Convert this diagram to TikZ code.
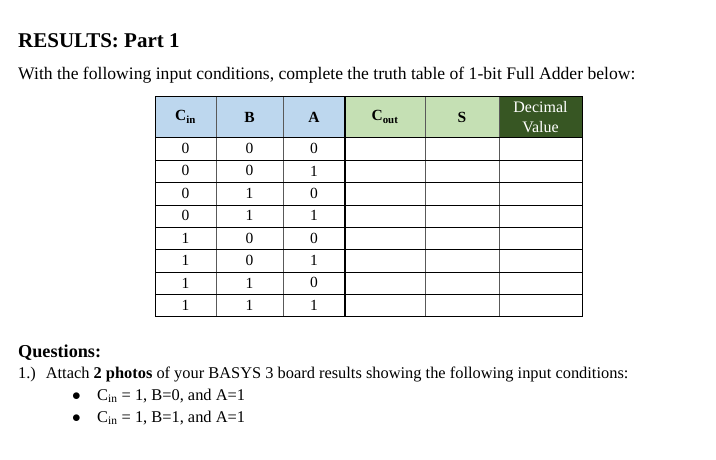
\documentclass[tikz,border=0pt]{standalone}
\usepackage{fontspec}
\setmainfont{Liberation Serif}
\definecolor{hblue}{HTML}{BDD7EE}
\definecolor{hgreen}{HTML}{C5E0B4}
\definecolor{hdark}{HTML}{375623}
\begin{document}
\begin{tikzpicture}[x=1pt,y=-1pt,
  txt/.style={anchor=base west,inner sep=0pt,font=\fontsize{16.4}{19}\selectfont},
  cell/.style={inner sep=0pt,font=\fontsize{15.5}{18}\selectfont},
  hcell/.style={inner sep=0pt,font=\fontsize{15.5}{18}\selectfont\bfseries}]
\useasboundingbox (0,0) rectangle (716,459);
\node[txt,font=\fontsize{21}{25}\selectfont\bfseries] (title) at (18,47) {RESULTS: Part 1};
\node[txt,font=\fontsize{17.6}{20}\selectfont] (intro) at (18,79) {With the following input conditions, complete the truth table of 1-bit Full Adder below:};
% header fills
\fill[hblue] (155,96) rectangle (345,137);
\fill[hgreen] (345,96) rectangle (499,137);
\fill[hdark] (499,96) rectangle (582,137);
% grid
\foreach \x in {216,283,425,499}{\draw[gray!70!black,line width=0.8] (\x,96) -- (\x,316);}
\foreach \y in {137,160,182,205,227,249,272,294}{\draw[line width=0.7] (155,\y) -- (582,\y);}
\draw[line width=0.8] (155,96) rectangle (582,316);
\draw[line width=2] (345,96) -- (345,316);
% headers
\node[hcell] (hc) at (185.5,117) {C\textsubscript{in}};
\node[hcell] (hb) at (249.5,117) {B};
\node[hcell] (ha) at (314,117) {A};
\node[hcell] (hco) at (385,117) {C\textsubscript{out}};
\node[hcell] (hs) at (462,117) {S};
\node[cell,text=white,align=center,font=\fontsize{16}{20}\selectfont] (hd) at (540.5,117) {Decimal\\Value};
% data
\foreach \c/\b/\a [count=\i from 0] in {0/0/0,0/0/1,0/1/0,0/1/1,1/0/0,1/0/1,1/1/0,1/1/1}{
  \pgfmathsetmacro\yy{148.5+22.4*\i}
  \node[cell] (c\i) at (185.5,\yy) {\c};
  \node[cell] (b\i) at (249.5,\yy) {\b};
  \node[cell] (a\i) at (314,\yy) {\a};
}
\node[txt,font=\fontsize{18.2}{21}\selectfont\bfseries] (q) at (18,357) {Questions:};
\node[txt] (q1) at (18,378) {1.)\hspace{0.6em}Attach \textbf{2 photos} of your BASYS 3 board results showing the following input conditions:};
\node[txt] (bu1) at (72,400) {$\bullet$};
\node[txt] (l1) at (97,400) {C\textsubscript{in} = 1, B=0, and A=1};
\node[txt] (bu2) at (72,422) {$\bullet$};
\node[txt] (l2) at (97,422) {C\textsubscript{in} = 1, B=1, and A=1};
\end{tikzpicture}
\end{document}
